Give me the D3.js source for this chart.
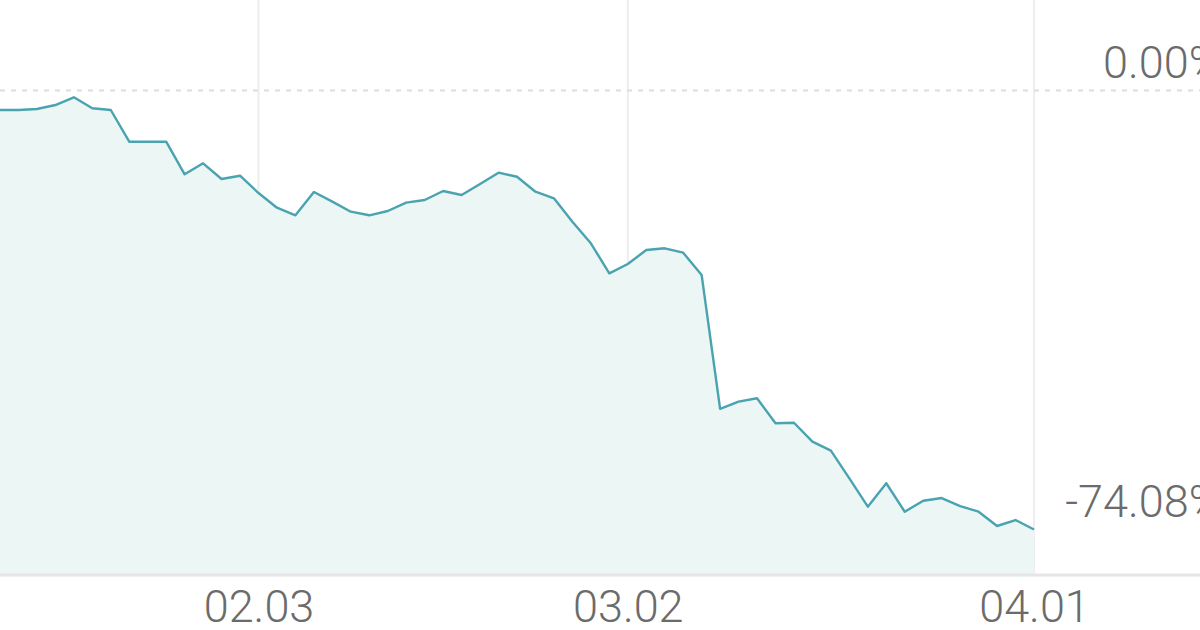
<!DOCTYPE html>
<html>
<head>
<meta charset="utf-8">
<script src="https://cdn.jsdelivr.net/npm/d3@7"></script>
<style>
  html, body { margin: 0; padding: 0; background: #fff; overflow: hidden; }
  svg { display: block; }
  text { font-family: Roboto, "Noto Sans", sans-serif; font-weight: 300; }
</style>
</head>
<body>
<svg id="chart" width="1200" height="630"></svg>
<script>
// ---- data ----
const dates = [
  "01.14","01.15","01.18","01.19","01.20","01.21","01.22","01.25","01.26","01.27",
  "01.28","01.29","02.01","02.02","02.03","02.04","02.05","02.08","02.09","02.10",
  "02.11","02.12","02.15","02.16","02.17","02.18","02.19","02.22","02.23","02.24",
  "02.25","02.26","02.27","03.01","03.02","03.03","03.04","03.05","03.08","03.09",
  "03.10","03.11","03.12","03.15","03.16","03.17","03.18","03.19","03.22","03.23",
  "03.24","03.25","03.26","03.29","03.30","03.31","04.01"
];
const returns = [
  -3.29, -3.29, -3.12, -2.45, -1.15, -3.00, -3.29, -8.64, -8.64, -8.64,
  -14.14, -12.29, -14.93, -14.38, -17.30, -19.78, -21.06, -17.13, -18.76, -20.45,
  -21.06, -20.33, -18.93, -18.48, -16.96, -17.63, -15.78, -13.87, -14.55, -17.08,
  -18.19, -22.14, -25.79, -30.85, -29.28, -26.92, -26.63, -27.37, -31.13, -53.71,
  -52.51, -51.94, -56.16, -56.06, -59.26, -60.78, -65.44, -70.23, -66.28, -71.08,
  -69.22, -68.77, -70.12, -71.08, -73.49, -72.48, -74.08
];
const tickDates = ["02.03", "03.02", "04.01"];
const refValues = [0, -74.08];

// ---- layout ----
const W = 1200, H = 630;
const plotRight = 1034;
const baseY = 574;

const svg = d3.select("#chart");

const x = d3.scaleLinear().domain([0, dates.length - 1]).range([0, plotRight]);
const y = d3.scaleLinear().domain([-74.08, 0]).range([529.5, 90.5]);

// vertical grid lines
const tickIdx = tickDates.map(d => dates.indexOf(d));
svg.append("g")
  .selectAll("line")
  .data(tickIdx)
  .join("line")
  .attr("x1", d => x(d)).attr("x2", d => x(d))
  .attr("y1", 0).attr("y2", baseY)
  .attr("stroke", "#eeeeee")
  .attr("stroke-width", 2);

// area
const area = d3.area()
  .x((d, i) => x(i))
  .y0(baseY)
  .y1(d => y(d));
svg.append("path")
  .datum(returns)
  .attr("d", area)
  .attr("fill", "#ecf6f5");

// zero dashed line
svg.append("line")
  .attr("x1", 0).attr("x2", W)
  .attr("y1", y(0)).attr("y2", y(0))
  .attr("stroke", "#dddddd")
  .attr("stroke-width", 2)
  .attr("stroke-dasharray", "5,6");

// line
const line = d3.line()
  .x((d, i) => x(i))
  .y(d => y(d));
svg.append("path")
  .datum(returns)
  .attr("d", line)
  .attr("fill", "none")
  .attr("stroke", "#4aa3b0")
  .attr("stroke-width", 2.4)
  .attr("stroke-linejoin", "round");

// baseline
svg.append("line")
  .attr("x1", 0).attr("x2", W)
  .attr("y1", baseY + 1).attr("y2", baseY + 1)
  .attr("stroke", "#e6e6e6")
  .attr("stroke-width", 3);

// x axis
const xAxis = d3.axisBottom(x)
  .tickValues(tickIdx)
  .tickFormat(i => dates[i])
  .tickSize(0);
const gx = svg.append("g")
  .attr("transform", `translate(0,${baseY})`)
  .call(xAxis);
gx.select(".domain").remove();
gx.selectAll("text")
  .attr("y", 48)
  .attr("dy", null)
  .attr("fill", "#6b6b6b")
  .style("font-size", "45px")
  .style("font-family", "Roboto, 'Noto Sans', sans-serif")
  .style("font-weight", 300);

// right value labels
svg.append("g")
  .selectAll("text")
  .data(refValues)
  .join("text")
  .attr("x", 1222)
  .attr("y", d => y(d) - 13)
  .attr("text-anchor", "end")
  .attr("fill", "#6b6b6b")
  .style("font-size", "45px")
  .text(d => d.toFixed(2) + "%");
</script>
</body>
</html>
